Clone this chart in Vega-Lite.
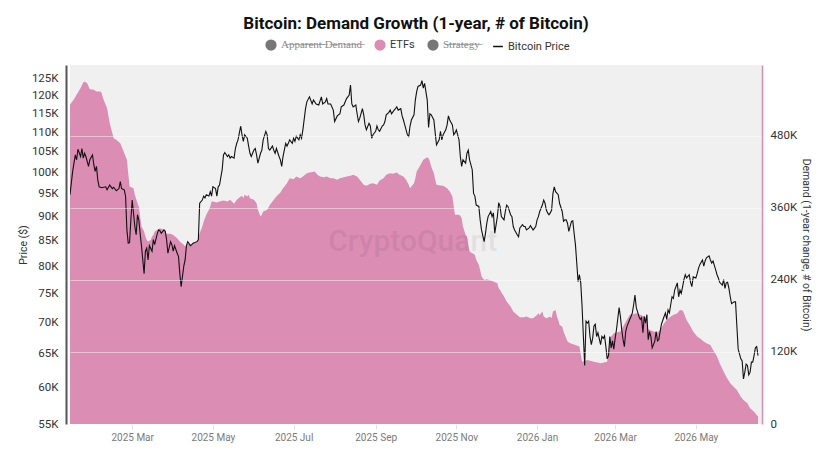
{
  "$schema": "https://vega.github.io/schema/vega-lite/v6.json",
  "width": 692,
  "height": 359,
  "autosize": {"type": "none"},
  "padding": {"left": 70, "top": 65, "right": 66, "bottom": 42},
  "background": "white",
  "config": {
    "view": {"fill": "#f0f0f0", "stroke": null},
    "font": "Roboto"
  },
  "title": {
    "text": "Bitcoin: Demand Growth (1-year, # of Bitcoin)",
    "font": "Roboto",
    "fontSize": 17,
    "fontWeight": "bold",
    "color": "#111111",
    "anchor": "middle",
    "frame": "group",
    "offset": 6
  },
  "datasets": {
    "price": [
      {"date": "2025-01-13", "price": 94800}, {"date": "2025-01-15", "price": 100200}, {"date": "2025-01-17", "price": 104200},
      {"date": "2025-01-18", "price": 103000}, {"date": "2025-01-19", "price": 105600}, {"date": "2025-01-21", "price": 103800},
      {"date": "2025-01-22", "price": 105800}, {"date": "2025-01-23", "price": 103400}, {"date": "2025-01-24", "price": 104600},
      {"date": "2025-01-25", "price": 103800}, {"date": "2025-01-27", "price": 101400}, {"date": "2025-01-28", "price": 103000},
      {"date": "2025-01-30", "price": 104200}, {"date": "2025-01-31", "price": 101800}, {"date": "2025-02-01", "price": 100200},
      {"date": "2025-02-02", "price": 101400}, {"date": "2025-02-03", "price": 98200}, {"date": "2025-02-04", "price": 96600},
      {"date": "2025-02-06", "price": 96400}, {"date": "2025-02-09", "price": 96600}, {"date": "2025-02-10", "price": 95900},
      {"date": "2025-02-12", "price": 97000}, {"date": "2025-02-14", "price": 96200}, {"date": "2025-02-15", "price": 96500},
      {"date": "2025-02-17", "price": 95700}, {"date": "2025-02-19", "price": 96200}, {"date": "2025-02-20", "price": 97800},
      {"date": "2025-02-21", "price": 96200}, {"date": "2025-02-23", "price": 95900}, {"date": "2025-02-24", "price": 94500},
      {"date": "2025-02-25", "price": 87200}, {"date": "2025-02-26", "price": 84500}, {"date": "2025-02-27", "price": 84600},
      {"date": "2025-02-28", "price": 89300}, {"date": "2025-03-01", "price": 93600}, {"date": "2025-03-03", "price": 87900},
      {"date": "2025-03-04", "price": 86200}, {"date": "2025-03-05", "price": 90400}, {"date": "2025-03-06", "price": 89300},
      {"date": "2025-03-07", "price": 86500}, {"date": "2025-03-08", "price": 84000}, {"date": "2025-03-10", "price": 78600},
      {"date": "2025-03-11", "price": 82900}, {"date": "2025-03-12", "price": 83500}, {"date": "2025-03-13", "price": 81200},
      {"date": "2025-03-14", "price": 84000}, {"date": "2025-03-16", "price": 82900}, {"date": "2025-03-17", "price": 85200},
      {"date": "2025-03-18", "price": 84200}, {"date": "2025-03-20", "price": 86500}, {"date": "2025-03-21", "price": 87200},
      {"date": "2025-03-22", "price": 87000}, {"date": "2025-03-23", "price": 86500}, {"date": "2025-03-25", "price": 87200},
      {"date": "2025-03-26", "price": 86900}, {"date": "2025-03-27", "price": 85200}, {"date": "2025-03-28", "price": 82500},
      {"date": "2025-03-30", "price": 84800}, {"date": "2025-03-31", "price": 84200}, {"date": "2025-04-01", "price": 82900},
      {"date": "2025-04-02", "price": 84000}, {"date": "2025-04-04", "price": 82500}, {"date": "2025-04-05", "price": 81900},
      {"date": "2025-04-06", "price": 78600}, {"date": "2025-04-07", "price": 76200}, {"date": "2025-04-09", "price": 80000},
      {"date": "2025-04-10", "price": 81200}, {"date": "2025-04-11", "price": 84000}, {"date": "2025-04-12", "price": 84800},
      {"date": "2025-04-14", "price": 84000}, {"date": "2025-04-15", "price": 84200}, {"date": "2025-04-16", "price": 84500},
      {"date": "2025-04-19", "price": 84800}, {"date": "2025-04-20", "price": 85200}, {"date": "2025-04-21", "price": 92900},
      {"date": "2025-04-23", "price": 93600}, {"date": "2025-04-24", "price": 94500}, {"date": "2025-04-25", "price": 94100},
      {"date": "2025-04-26", "price": 94800}, {"date": "2025-04-28", "price": 94500}, {"date": "2025-04-29", "price": 95500},
      {"date": "2025-04-30", "price": 94500}, {"date": "2025-05-01", "price": 96600}, {"date": "2025-05-03", "price": 96200},
      {"date": "2025-05-04", "price": 94500}, {"date": "2025-05-05", "price": 96600}, {"date": "2025-05-06", "price": 97000},
      {"date": "2025-05-08", "price": 100600}, {"date": "2025-05-09", "price": 104200}, {"date": "2025-05-10", "price": 104800},
      {"date": "2025-05-12", "price": 103800}, {"date": "2025-05-13", "price": 104200}, {"date": "2025-05-14", "price": 103400},
      {"date": "2025-05-15", "price": 103800}, {"date": "2025-05-17", "price": 103400}, {"date": "2025-05-18", "price": 105800},
      {"date": "2025-05-19", "price": 107100}, {"date": "2025-05-20", "price": 108000}, {"date": "2025-05-22", "price": 111600},
      {"date": "2025-05-23", "price": 109300}, {"date": "2025-05-24", "price": 107600}, {"date": "2025-05-25", "price": 109300},
      {"date": "2025-05-27", "price": 108400}, {"date": "2025-05-28", "price": 106400}, {"date": "2025-05-29", "price": 104600},
      {"date": "2025-05-30", "price": 103800}, {"date": "2025-06-01", "price": 105400}, {"date": "2025-06-02", "price": 105800},
      {"date": "2025-06-03", "price": 104200}, {"date": "2025-06-04", "price": 102200}, {"date": "2025-06-06", "price": 104600},
      {"date": "2025-06-07", "price": 105400}, {"date": "2025-06-08", "price": 108000}, {"date": "2025-06-10", "price": 110200},
      {"date": "2025-06-11", "price": 109300}, {"date": "2025-06-12", "price": 105800}, {"date": "2025-06-13", "price": 105400},
      {"date": "2025-06-15", "price": 106400}, {"date": "2025-06-16", "price": 105400}, {"date": "2025-06-17", "price": 104600},
      {"date": "2025-06-18", "price": 105800}, {"date": "2025-06-20", "price": 103800}, {"date": "2025-06-21", "price": 103000},
      {"date": "2025-06-22", "price": 101400}, {"date": "2025-06-23", "price": 103800}, {"date": "2025-06-25", "price": 107100},
      {"date": "2025-06-26", "price": 106400}, {"date": "2025-06-27", "price": 107100}, {"date": "2025-06-28", "price": 108000},
      {"date": "2025-06-30", "price": 107100}, {"date": "2025-07-01", "price": 108400}, {"date": "2025-07-02", "price": 107600},
      {"date": "2025-07-03", "price": 108900}, {"date": "2025-07-05", "price": 108000}, {"date": "2025-07-06", "price": 109300},
      {"date": "2025-07-07", "price": 108400}, {"date": "2025-07-08", "price": 110600}, {"date": "2025-07-10", "price": 116300},
      {"date": "2025-07-11", "price": 118200}, {"date": "2025-07-13", "price": 119600}, {"date": "2025-07-15", "price": 117600},
      {"date": "2025-07-16", "price": 118700}, {"date": "2025-07-18", "price": 117600}, {"date": "2025-07-20", "price": 117300},
      {"date": "2025-07-22", "price": 119600}, {"date": "2025-07-23", "price": 117600}, {"date": "2025-07-25", "price": 118200},
      {"date": "2025-07-26", "price": 119100}, {"date": "2025-07-27", "price": 117600}, {"date": "2025-07-29", "price": 117600},
      {"date": "2025-07-31", "price": 115900}, {"date": "2025-08-01", "price": 112800}, {"date": "2025-08-03", "price": 114300},
      {"date": "2025-08-05", "price": 114900}, {"date": "2025-08-06", "price": 116800}, {"date": "2025-08-08", "price": 117300},
      {"date": "2025-08-09", "price": 118200}, {"date": "2025-08-10", "price": 119100}, {"date": "2025-08-12", "price": 120100},
      {"date": "2025-08-13", "price": 123000}, {"date": "2025-08-14", "price": 117600}, {"date": "2025-08-15", "price": 116800},
      {"date": "2025-08-17", "price": 117300}, {"date": "2025-08-18", "price": 114900}, {"date": "2025-08-19", "price": 112800},
      {"date": "2025-08-20", "price": 113700}, {"date": "2025-08-22", "price": 116300}, {"date": "2025-08-23", "price": 114600},
      {"date": "2025-08-24", "price": 111900}, {"date": "2025-08-25", "price": 110600}, {"date": "2025-08-27", "price": 112300},
      {"date": "2025-08-28", "price": 111600}, {"date": "2025-08-29", "price": 108400}, {"date": "2025-08-30", "price": 109300},
      {"date": "2025-09-01", "price": 110200}, {"date": "2025-09-02", "price": 111600}, {"date": "2025-09-03", "price": 110600},
      {"date": "2025-09-04", "price": 110200}, {"date": "2025-09-06", "price": 111600}, {"date": "2025-09-07", "price": 111900},
      {"date": "2025-09-08", "price": 112800}, {"date": "2025-09-09", "price": 114600}, {"date": "2025-09-11", "price": 115300},
      {"date": "2025-09-12", "price": 115900}, {"date": "2025-09-13", "price": 114900}, {"date": "2025-09-15", "price": 115900},
      {"date": "2025-09-16", "price": 116300}, {"date": "2025-09-17", "price": 116800}, {"date": "2025-09-18", "price": 115900},
      {"date": "2025-09-20", "price": 116300}, {"date": "2025-09-21", "price": 114300}, {"date": "2025-09-22", "price": 113200},
      {"date": "2025-09-23", "price": 111900}, {"date": "2025-09-25", "price": 109300}, {"date": "2025-09-26", "price": 108900},
      {"date": "2025-09-27", "price": 111600}, {"date": "2025-09-28", "price": 113200}, {"date": "2025-09-30", "price": 114600},
      {"date": "2025-10-01", "price": 118700}, {"date": "2025-10-02", "price": 121100}, {"date": "2025-10-03", "price": 122600},
      {"date": "2025-10-05", "price": 123000}, {"date": "2025-10-06", "price": 124300}, {"date": "2025-10-07", "price": 122100},
      {"date": "2025-10-08", "price": 123500}, {"date": "2025-10-10", "price": 118700}, {"date": "2025-10-11", "price": 111200},
      {"date": "2025-10-12", "price": 114900}, {"date": "2025-10-13", "price": 114600}, {"date": "2025-10-15", "price": 113200},
      {"date": "2025-10-16", "price": 109800}, {"date": "2025-10-17", "price": 106700}, {"date": "2025-10-19", "price": 108000},
      {"date": "2025-10-20", "price": 110200}, {"date": "2025-10-21", "price": 108000}, {"date": "2025-10-22", "price": 109300},
      {"date": "2025-10-24", "price": 110600}, {"date": "2025-10-25", "price": 111900}, {"date": "2025-10-26", "price": 114300},
      {"date": "2025-10-27", "price": 113200}, {"date": "2025-10-29", "price": 111900}, {"date": "2025-10-30", "price": 109300},
      {"date": "2025-10-31", "price": 109800}, {"date": "2025-11-01", "price": 110600}, {"date": "2025-11-03", "price": 108000},
      {"date": "2025-11-04", "price": 103800}, {"date": "2025-11-05", "price": 101400}, {"date": "2025-11-06", "price": 103000},
      {"date": "2025-11-08", "price": 102200}, {"date": "2025-11-09", "price": 104600}, {"date": "2025-11-10", "price": 105400},
      {"date": "2025-11-11", "price": 103000}, {"date": "2025-11-13", "price": 100600}, {"date": "2025-11-14", "price": 95100},
      {"date": "2025-11-15", "price": 94500}, {"date": "2025-11-16", "price": 92500}, {"date": "2025-11-18", "price": 92200},
      {"date": "2025-11-19", "price": 89300}, {"date": "2025-11-20", "price": 87200}, {"date": "2025-11-22", "price": 84800},
      {"date": "2025-11-23", "price": 86500}, {"date": "2025-11-24", "price": 88600}, {"date": "2025-11-25", "price": 90000},
      {"date": "2025-11-27", "price": 91100}, {"date": "2025-11-28", "price": 90000}, {"date": "2025-11-29", "price": 90800},
      {"date": "2025-11-30", "price": 86500}, {"date": "2025-12-02", "price": 90000}, {"date": "2025-12-03", "price": 93000},
      {"date": "2025-12-04", "price": 92200}, {"date": "2025-12-05", "price": 90000}, {"date": "2025-12-07", "price": 89300},
      {"date": "2025-12-08", "price": 91100}, {"date": "2025-12-09", "price": 92500}, {"date": "2025-12-10", "price": 92200},
      {"date": "2025-12-12", "price": 90400}, {"date": "2025-12-13", "price": 90000}, {"date": "2025-12-14", "price": 87900},
      {"date": "2025-12-15", "price": 87200}, {"date": "2025-12-17", "price": 86200}, {"date": "2025-12-18", "price": 85800},
      {"date": "2025-12-19", "price": 87600}, {"date": "2025-12-21", "price": 88300}, {"date": "2025-12-22", "price": 87900},
      {"date": "2025-12-23", "price": 87900}, {"date": "2025-12-24", "price": 87200}, {"date": "2025-12-26", "price": 87600},
      {"date": "2025-12-27", "price": 88100}, {"date": "2025-12-29", "price": 87200}, {"date": "2025-12-31", "price": 87900},
      {"date": "2026-01-01", "price": 89300}, {"date": "2026-01-02", "price": 90000}, {"date": "2026-01-03", "price": 91100},
      {"date": "2026-01-05", "price": 92500}, {"date": "2026-01-06", "price": 93600}, {"date": "2026-01-07", "price": 92900},
      {"date": "2026-01-08", "price": 91400}, {"date": "2026-01-09", "price": 90800}, {"date": "2026-01-10", "price": 90400},
      {"date": "2026-01-11", "price": 90800}, {"date": "2026-01-12", "price": 91400}, {"date": "2026-01-13", "price": 95100},
      {"date": "2026-01-14", "price": 96600}, {"date": "2026-01-15", "price": 95500}, {"date": "2026-01-17", "price": 94800},
      {"date": "2026-01-18", "price": 92900}, {"date": "2026-01-20", "price": 91100}, {"date": "2026-01-21", "price": 89000},
      {"date": "2026-01-22", "price": 89300}, {"date": "2026-01-23", "price": 89300}, {"date": "2026-01-24", "price": 88600},
      {"date": "2026-01-25", "price": 86900}, {"date": "2026-01-27", "price": 89000}, {"date": "2026-01-28", "price": 89100},
      {"date": "2026-01-29", "price": 86500}, {"date": "2026-01-30", "price": 84200}, {"date": "2026-01-31", "price": 80600},
      {"date": "2026-02-01", "price": 77100}, {"date": "2026-02-02", "price": 78400}, {"date": "2026-02-03", "price": 76900},
      {"date": "2026-02-04", "price": 72800}, {"date": "2026-02-05", "price": 67700}, {"date": "2026-02-06", "price": 63200},
      {"date": "2026-02-07", "price": 70200}, {"date": "2026-02-08", "price": 69900}, {"date": "2026-02-09", "price": 70200},
      {"date": "2026-02-10", "price": 67700}, {"date": "2026-02-11", "price": 66400}, {"date": "2026-02-12", "price": 67400},
      {"date": "2026-02-13", "price": 69400}, {"date": "2026-02-14", "price": 69700}, {"date": "2026-02-15", "price": 67700},
      {"date": "2026-02-16", "price": 68300}, {"date": "2026-02-18", "price": 66400}, {"date": "2026-02-19", "price": 67700},
      {"date": "2026-02-20", "price": 67400}, {"date": "2026-02-21", "price": 67800}, {"date": "2026-02-22", "price": 66100},
      {"date": "2026-02-23", "price": 64200}, {"date": "2026-02-24", "price": 64700}, {"date": "2026-02-25", "price": 67700},
      {"date": "2026-02-26", "price": 65900}, {"date": "2026-02-27", "price": 67000}, {"date": "2026-02-28", "price": 65700},
      {"date": "2026-03-01", "price": 67400}, {"date": "2026-03-02", "price": 68800}, {"date": "2026-03-04", "price": 72500},
      {"date": "2026-03-05", "price": 71000}, {"date": "2026-03-06", "price": 68800}, {"date": "2026-03-07", "price": 67200},
      {"date": "2026-03-08", "price": 66100}, {"date": "2026-03-09", "price": 68500}, {"date": "2026-03-10", "price": 69400},
      {"date": "2026-03-11", "price": 69900}, {"date": "2026-03-12", "price": 70500}, {"date": "2026-03-13", "price": 71000},
      {"date": "2026-03-14", "price": 71600}, {"date": "2026-03-15", "price": 73000}, {"date": "2026-03-16", "price": 74700},
      {"date": "2026-03-17", "price": 72500}, {"date": "2026-03-19", "price": 71000}, {"date": "2026-03-20", "price": 70500},
      {"date": "2026-03-21", "price": 70800}, {"date": "2026-03-22", "price": 68300}, {"date": "2026-03-23", "price": 71000},
      {"date": "2026-03-24", "price": 69900}, {"date": "2026-03-25", "price": 71300}, {"date": "2026-03-26", "price": 67200},
      {"date": "2026-03-27", "price": 68500}, {"date": "2026-03-28", "price": 67700}, {"date": "2026-03-29", "price": 65900},
      {"date": "2026-03-30", "price": 66400}, {"date": "2026-03-31", "price": 67000}, {"date": "2026-04-01", "price": 68500},
      {"date": "2026-04-02", "price": 67000}, {"date": "2026-04-03", "price": 67200}, {"date": "2026-04-04", "price": 68500},
      {"date": "2026-04-05", "price": 69700}, {"date": "2026-04-07", "price": 71000}, {"date": "2026-04-08", "price": 71600},
      {"date": "2026-04-09", "price": 70500}, {"date": "2026-04-10", "price": 72100}, {"date": "2026-04-11", "price": 71600},
      {"date": "2026-04-12", "price": 73000}, {"date": "2026-04-13", "price": 74400}, {"date": "2026-04-14", "price": 74100},
      {"date": "2026-04-15", "price": 75600}, {"date": "2026-04-17", "price": 76900}, {"date": "2026-04-18", "price": 74400},
      {"date": "2026-04-19", "price": 75600}, {"date": "2026-04-20", "price": 75000}, {"date": "2026-04-21", "price": 76200},
      {"date": "2026-04-22", "price": 77500}, {"date": "2026-04-23", "price": 78400}, {"date": "2026-04-24", "price": 77800},
      {"date": "2026-04-26", "price": 78400}, {"date": "2026-04-27", "price": 77000}, {"date": "2026-04-28", "price": 76200},
      {"date": "2026-04-29", "price": 78000}, {"date": "2026-05-01", "price": 77800}, {"date": "2026-05-02", "price": 78600},
      {"date": "2026-05-03", "price": 79600}, {"date": "2026-05-04", "price": 80300}, {"date": "2026-05-06", "price": 81200},
      {"date": "2026-05-07", "price": 80000}, {"date": "2026-05-08", "price": 81000}, {"date": "2026-05-09", "price": 81600},
      {"date": "2026-05-11", "price": 82000}, {"date": "2026-05-12", "price": 81200}, {"date": "2026-05-13", "price": 80600},
      {"date": "2026-05-14", "price": 81000}, {"date": "2026-05-16", "price": 79300}, {"date": "2026-05-17", "price": 78400},
      {"date": "2026-05-18", "price": 77800}, {"date": "2026-05-19", "price": 77000}, {"date": "2026-05-21", "price": 76500},
      {"date": "2026-05-22", "price": 77500}, {"date": "2026-05-23", "price": 75900}, {"date": "2026-05-24", "price": 76900},
      {"date": "2026-05-25", "price": 77000}, {"date": "2026-05-26", "price": 75900}, {"date": "2026-05-27", "price": 74400},
      {"date": "2026-05-28", "price": 73200}, {"date": "2026-05-30", "price": 73500}, {"date": "2026-05-31", "price": 73500},
      {"date": "2026-06-01", "price": 69400}, {"date": "2026-06-02", "price": 65700}, {"date": "2026-06-04", "price": 64200},
      {"date": "2026-06-05", "price": 63900}, {"date": "2026-06-06", "price": 61200}, {"date": "2026-06-07", "price": 62200},
      {"date": "2026-06-08", "price": 63400}, {"date": "2026-06-09", "price": 63200}, {"date": "2026-06-10", "price": 61800},
      {"date": "2026-06-11", "price": 62200}, {"date": "2026-06-12", "price": 63700}, {"date": "2026-06-13", "price": 63700},
      {"date": "2026-06-14", "price": 64700}, {"date": "2026-06-15", "price": 65900}, {"date": "2026-06-16", "price": 66100},
      {"date": "2026-06-17", "price": 64700}
    ],
    "etf": [
      {"date": "2025-01-13", "etf": 531700}, {"date": "2025-01-16", "etf": 541100}, {"date": "2025-01-18", "etf": 548400},
      {"date": "2025-01-21", "etf": 559500}, {"date": "2025-01-23", "etf": 568900}, {"date": "2025-01-24", "etf": 570600},
      {"date": "2025-01-26", "etf": 567800}, {"date": "2025-01-28", "etf": 557800}, {"date": "2025-01-31", "etf": 556700},
      {"date": "2025-02-02", "etf": 553900}, {"date": "2025-02-05", "etf": 553900}, {"date": "2025-02-06", "etf": 551100},
      {"date": "2025-02-07", "etf": 542800}, {"date": "2025-02-10", "etf": 526100}, {"date": "2025-02-12", "etf": 501100},
      {"date": "2025-02-15", "etf": 476100}, {"date": "2025-02-17", "etf": 473400}, {"date": "2025-02-20", "etf": 467800},
      {"date": "2025-02-22", "etf": 456700}, {"date": "2025-02-25", "etf": 440000}, {"date": "2025-02-26", "etf": 417800},
      {"date": "2025-02-27", "etf": 395600}, {"date": "2025-03-02", "etf": 392800}, {"date": "2025-03-03", "etf": 381700},
      {"date": "2025-03-05", "etf": 367800}, {"date": "2025-03-06", "etf": 362300}, {"date": "2025-03-07", "etf": 345600},
      {"date": "2025-03-08", "etf": 328900}, {"date": "2025-03-10", "etf": 320600}, {"date": "2025-03-11", "etf": 312300},
      {"date": "2025-03-12", "etf": 306700}, {"date": "2025-03-13", "etf": 303900}, {"date": "2025-03-15", "etf": 306700},
      {"date": "2025-03-16", "etf": 312300}, {"date": "2025-03-17", "etf": 315000}, {"date": "2025-03-18", "etf": 320600},
      {"date": "2025-03-20", "etf": 323400}, {"date": "2025-03-22", "etf": 326100}, {"date": "2025-03-25", "etf": 323400},
      {"date": "2025-03-27", "etf": 316700}, {"date": "2025-03-30", "etf": 316700}, {"date": "2025-04-01", "etf": 315000},
      {"date": "2025-04-04", "etf": 309500}, {"date": "2025-04-06", "etf": 303900}, {"date": "2025-04-09", "etf": 298400},
      {"date": "2025-04-10", "etf": 295600}, {"date": "2025-04-11", "etf": 298400}, {"date": "2025-04-13", "etf": 301100},
      {"date": "2025-04-14", "etf": 298400}, {"date": "2025-04-16", "etf": 301100}, {"date": "2025-04-19", "etf": 303900},
      {"date": "2025-04-20", "etf": 309500}, {"date": "2025-04-21", "etf": 317800}, {"date": "2025-04-23", "etf": 328900},
      {"date": "2025-04-24", "etf": 337300}, {"date": "2025-04-25", "etf": 342800}, {"date": "2025-04-26", "etf": 348400},
      {"date": "2025-04-28", "etf": 356700}, {"date": "2025-04-29", "etf": 362300}, {"date": "2025-04-30", "etf": 370600},
      {"date": "2025-05-01", "etf": 370600}, {"date": "2025-05-04", "etf": 368900}, {"date": "2025-05-06", "etf": 370600},
      {"date": "2025-05-09", "etf": 372300}, {"date": "2025-05-12", "etf": 370600}, {"date": "2025-05-14", "etf": 373400},
      {"date": "2025-05-17", "etf": 366700}, {"date": "2025-05-19", "etf": 373400}, {"date": "2025-05-22", "etf": 378900},
      {"date": "2025-05-23", "etf": 380000}, {"date": "2025-05-24", "etf": 376100}, {"date": "2025-05-25", "etf": 381700},
      {"date": "2025-05-27", "etf": 378900}, {"date": "2025-05-28", "etf": 381700}, {"date": "2025-05-29", "etf": 376100},
      {"date": "2025-06-01", "etf": 373400}, {"date": "2025-06-03", "etf": 367800}, {"date": "2025-06-04", "etf": 356700},
      {"date": "2025-06-06", "etf": 345600}, {"date": "2025-06-07", "etf": 348400}, {"date": "2025-06-08", "etf": 353900},
      {"date": "2025-06-11", "etf": 356700}, {"date": "2025-06-13", "etf": 365000}, {"date": "2025-06-16", "etf": 373400},
      {"date": "2025-06-18", "etf": 378900}, {"date": "2025-06-21", "etf": 385600}, {"date": "2025-06-23", "etf": 392800},
      {"date": "2025-06-26", "etf": 401100}, {"date": "2025-06-28", "etf": 409500}, {"date": "2025-07-01", "etf": 407800},
      {"date": "2025-07-03", "etf": 412300}, {"date": "2025-07-06", "etf": 409500}, {"date": "2025-07-08", "etf": 412300},
      {"date": "2025-07-11", "etf": 417800}, {"date": "2025-07-13", "etf": 418900}, {"date": "2025-07-17", "etf": 420600},
      {"date": "2025-07-19", "etf": 415000}, {"date": "2025-07-21", "etf": 412300}, {"date": "2025-07-24", "etf": 411100},
      {"date": "2025-07-26", "etf": 412300}, {"date": "2025-07-29", "etf": 409500}, {"date": "2025-07-31", "etf": 409500},
      {"date": "2025-08-03", "etf": 406700}, {"date": "2025-08-05", "etf": 409500}, {"date": "2025-08-08", "etf": 411100},
      {"date": "2025-08-10", "etf": 412300}, {"date": "2025-08-13", "etf": 413400}, {"date": "2025-08-15", "etf": 415000},
      {"date": "2025-08-18", "etf": 412300}, {"date": "2025-08-20", "etf": 406700}, {"date": "2025-08-23", "etf": 398400},
      {"date": "2025-08-25", "etf": 396700}, {"date": "2025-08-28", "etf": 400000}, {"date": "2025-08-30", "etf": 401100},
      {"date": "2025-09-02", "etf": 398400}, {"date": "2025-09-04", "etf": 405600}, {"date": "2025-09-07", "etf": 409500},
      {"date": "2025-09-09", "etf": 415000}, {"date": "2025-09-12", "etf": 417800}, {"date": "2025-09-14", "etf": 416700},
      {"date": "2025-09-17", "etf": 418900}, {"date": "2025-09-19", "etf": 415000}, {"date": "2025-09-22", "etf": 412300},
      {"date": "2025-09-24", "etf": 406700}, {"date": "2025-09-26", "etf": 398400}, {"date": "2025-09-27", "etf": 392800},
      {"date": "2025-09-28", "etf": 395600}, {"date": "2025-09-30", "etf": 401100}, {"date": "2025-10-01", "etf": 409500},
      {"date": "2025-10-02", "etf": 420600}, {"date": "2025-10-05", "etf": 431700}, {"date": "2025-10-07", "etf": 440000},
      {"date": "2025-10-10", "etf": 444500}, {"date": "2025-10-11", "etf": 442800}, {"date": "2025-10-12", "etf": 437300},
      {"date": "2025-10-13", "etf": 428900}, {"date": "2025-10-15", "etf": 417800}, {"date": "2025-10-16", "etf": 406700},
      {"date": "2025-10-17", "etf": 398400}, {"date": "2025-10-20", "etf": 397300}, {"date": "2025-10-22", "etf": 396700},
      {"date": "2025-10-25", "etf": 392800}, {"date": "2025-10-27", "etf": 387300}, {"date": "2025-10-29", "etf": 378900},
      {"date": "2025-10-30", "etf": 362300}, {"date": "2025-10-31", "etf": 348400}, {"date": "2025-11-03", "etf": 348400},
      {"date": "2025-11-04", "etf": 346700}, {"date": "2025-11-05", "etf": 342800}, {"date": "2025-11-06", "etf": 328900},
      {"date": "2025-11-08", "etf": 315000}, {"date": "2025-11-09", "etf": 312300}, {"date": "2025-11-10", "etf": 298400},
      {"date": "2025-11-11", "etf": 287300}, {"date": "2025-11-13", "etf": 284500}, {"date": "2025-11-14", "etf": 283400},
      {"date": "2025-11-15", "etf": 281700}, {"date": "2025-11-16", "etf": 273400}, {"date": "2025-11-18", "etf": 265000},
      {"date": "2025-11-19", "etf": 256700}, {"date": "2025-11-20", "etf": 245600}, {"date": "2025-11-22", "etf": 240000},
      {"date": "2025-11-24", "etf": 241100}, {"date": "2025-11-27", "etf": 238900}, {"date": "2025-11-29", "etf": 237300},
      {"date": "2025-12-02", "etf": 234500}, {"date": "2025-12-03", "etf": 226100}, {"date": "2025-12-04", "etf": 223400},
      {"date": "2025-12-07", "etf": 212300}, {"date": "2025-12-09", "etf": 203900}, {"date": "2025-12-12", "etf": 195600},
      {"date": "2025-12-14", "etf": 187300}, {"date": "2025-12-17", "etf": 181700}, {"date": "2025-12-19", "etf": 177800},
      {"date": "2025-12-22", "etf": 177800}, {"date": "2025-12-24", "etf": 178900}, {"date": "2025-12-27", "etf": 176100},
      {"date": "2025-12-29", "etf": 176100}, {"date": "2026-01-01", "etf": 181700}, {"date": "2026-01-02", "etf": 184500},
      {"date": "2026-01-03", "etf": 181700}, {"date": "2026-01-05", "etf": 187300}, {"date": "2026-01-06", "etf": 178900},
      {"date": "2026-01-08", "etf": 176100}, {"date": "2026-01-11", "etf": 178900}, {"date": "2026-01-12", "etf": 176100},
      {"date": "2026-01-13", "etf": 187300}, {"date": "2026-01-15", "etf": 190000}, {"date": "2026-01-16", "etf": 178900},
      {"date": "2026-01-17", "etf": 173400}, {"date": "2026-01-18", "etf": 165000}, {"date": "2026-01-20", "etf": 162300},
      {"date": "2026-01-21", "etf": 153900}, {"date": "2026-01-24", "etf": 137300}, {"date": "2026-01-26", "etf": 134500},
      {"date": "2026-01-30", "etf": 131700}, {"date": "2026-02-02", "etf": 128900}, {"date": "2026-02-04", "etf": 103900},
      {"date": "2026-02-08", "etf": 106700}, {"date": "2026-02-13", "etf": 103900}, {"date": "2026-02-18", "etf": 101100},
      {"date": "2026-02-23", "etf": 103900}, {"date": "2026-02-25", "etf": 142800}, {"date": "2026-02-28", "etf": 151100},
      {"date": "2026-03-05", "etf": 153900}, {"date": "2026-03-09", "etf": 170500}, {"date": "2026-03-12", "etf": 181700},
      {"date": "2026-03-17", "etf": 184500}, {"date": "2026-03-20", "etf": 182000}, {"date": "2026-03-24", "etf": 178000},
      {"date": "2026-03-26", "etf": 158000}, {"date": "2026-03-30", "etf": 153900}, {"date": "2026-04-02", "etf": 152300},
      {"date": "2026-04-04", "etf": 156700}, {"date": "2026-04-07", "etf": 167800}, {"date": "2026-04-09", "etf": 173400},
      {"date": "2026-04-12", "etf": 178900}, {"date": "2026-04-14", "etf": 181700}, {"date": "2026-04-17", "etf": 184500},
      {"date": "2026-04-19", "etf": 190000}, {"date": "2026-04-21", "etf": 188900}, {"date": "2026-04-22", "etf": 184500},
      {"date": "2026-04-24", "etf": 173400}, {"date": "2026-04-27", "etf": 162300}, {"date": "2026-04-29", "etf": 153900},
      {"date": "2026-05-02", "etf": 145600}, {"date": "2026-05-04", "etf": 142800}, {"date": "2026-05-07", "etf": 137300},
      {"date": "2026-05-09", "etf": 134500}, {"date": "2026-05-12", "etf": 131700}, {"date": "2026-05-14", "etf": 123400},
      {"date": "2026-05-17", "etf": 112300}, {"date": "2026-05-19", "etf": 101100}, {"date": "2026-05-22", "etf": 87300},
      {"date": "2026-05-24", "etf": 78900}, {"date": "2026-05-27", "etf": 67800}, {"date": "2026-05-30", "etf": 61100},
      {"date": "2026-06-01", "etf": 56700}, {"date": "2026-06-04", "etf": 45600}, {"date": "2026-06-06", "etf": 40000},
      {"date": "2026-06-09", "etf": 34500}, {"date": "2026-06-11", "etf": 26100}, {"date": "2026-06-14", "etf": 20600},
      {"date": "2026-06-16", "etf": 15000}, {"date": "2026-06-17", "etf": 12300}
    ],
    "mark": [{"label": "CryptoQuant"}]
  },
  "layer": [
    {
      "layer": [
        {
          "data": {"name": "etf"},
          "mark": {"type": "area", "interpolate": "linear", "clip": true},
          "encoding": {
            "x": {
              "field": "date",
              "type": "temporal",
              "scale": {"type": "utc", "domain": [{"year": 2025, "month": 1, "date": 13, "utc": true}, {"year": 2026, "month": 6, "date": 20, "utc": true}]},
              "axis": {
                "title": null,
                "values": [
                  {"year": 2025, "month": 3, "date": 1, "utc": true},
                  {"year": 2025, "month": 5, "date": 1, "utc": true},
                  {"year": 2025, "month": 7, "date": 1, "utc": true},
                  {"year": 2025, "month": 9, "date": 1, "utc": true},
                  {"year": 2025, "month": 11, "date": 1, "utc": true},
                  {"year": 2026, "month": 1, "date": 1, "utc": true},
                  {"year": 2026, "month": 3, "date": 1, "utc": true},
                  {"year": 2026, "month": 5, "date": 1, "utc": true}
                ],
                "format": "%Y %b",
                "domain": false,
                "grid": false,
                "tickColor": "#e2e2e2",
                "tickSize": 5,
                "labelColor": "#7a7a7a",
                "labelFont": "Roboto",
                "labelFontSize": 10,
                "labelPadding": 3
              }
            },
            "y": {
              "field": "etf",
              "type": "quantitative",
              "scale": {"domain": [0, 598000], "nice": false},
              "axis": {
                "orient": "right",
                "title": "Demand (1-year change, # of Bitcoin)",
                "titleFont": "Roboto",
                "titleFontSize": 10.5,
                "titleFontWeight": "normal",
                "titleColor": "#333333",
                "titlePadding": 4,
                "values": [0, 120000, 240000, 360000, 480000],
                "labelExpr": "datum.value == 0 ? '0' : format(datum.value / 1000, '.0f') + 'K'",
                "labelFont": "Roboto",
                "labelFontSize": 11.5,
                "labelColor": "#333333",
                "labelPadding": 8,
                "ticks": false,
                "domainColor": "#d98cb3",
                "domainWidth": 1.5,
                "grid": true,
                "gridColor": "#ffffff",
                "gridOpacity": 0.45,
                "zindex": 1
              }
            },
            "color": {
              "datum": "ETFs",
              "type": "nominal",
              "scale": {
                "domain": ["Apparent Demand", "ETFs", "Strategy", "Bitcoin Price"],
                "range": ["#777777", "#dc8db4", "#777777", "#111111"]
              },
              "legend": {
                "orient": "none",
                "legendX": 195,
                "legendY": -26,
                "direction": "horizontal",
                "title": null,
                "labelFont": "Roboto",
                "labelFontSize": 11,
                "labelColor": "#333333",
                "labelOffset": 4,
                "columnPadding": 10,
                "symbolSize": 95,
                "symbolStrokeWidth": 1.5,
                "labelExpr": "datum.value === 'Apparent Demand' ? 'A\u0336p\u0336p\u0336a\u0336r\u0336e\u0336n\u0336t\u0336 \u0336D\u0336e\u0336m\u0336a\u0336n\u0336d\u0336' : datum.value === 'Strategy' ? 'S\u0336t\u0336r\u0336a\u0336t\u0336e\u0336g\u0336y\u0336' : datum.label",
                "encode": {
                  "symbols": {
                    "update": {
                      "shape": {"signal": "datum.value === 'Bitcoin Price' ? 'stroke' : 'circle'"},
                      "fill": {"signal": "datum.value === 'Bitcoin Price' ? 'transparent' : datum.value === 'ETFs' ? '#e0619f' : '#777777'"},
                      "stroke": {"signal": "datum.value === 'Bitcoin Price' ? '#111111' : 'transparent'"},
                      "opacity": {"value": 1}
                    }
                  },
                  "labels": {
                    "update": {
                      "fill": {"signal": "datum.value === 'Apparent Demand' || datum.value === 'Strategy' ? '#8a8a8a' : '#333333'"}
                    }
                  }
                }
              }
            }
          }
        },
        {
          "data": {"name": "mark"},
          "mark": {"type": "text", "font": "Roboto", "fontSize": 30, "fontWeight": 500, "color": "#000000", "opacity": 0.06},
          "encoding": {
            "x": {"datum": {"year": 2025, "month": 9, "date": 29, "utc": true}, "type": "temporal"},
            "y": {"datum": 303000, "type": "quantitative"},
            "text": {"field": "label"}
          }
        }
      ]
    },
    {
      "data": {"name": "price"},
      "mark": {"type": "line", "strokeWidth": 1.1, "interpolate": "linear", "clip": true},
      "encoding": {
        "x": {
          "field": "date",
          "type": "temporal"
        },
        "y": {
          "field": "price",
          "type": "quantitative",
          "scale": {"type": "log", "domain": [55000, 129000], "nice": false},
          "axis": {
            "orient": "left",
            "title": "Price ($)",
            "titleFont": "Roboto",
            "titleFontSize": 10.5,
            "titleFontWeight": "normal",
            "titleColor": "#333333",
            "titlePadding": 3,
            "values": [55000, 60000, 65000, 70000, 75000, 80000, 85000, 90000, 95000, 100000, 105000, 110000, 115000, 120000, 125000],
            "labelExpr": "format(datum.value / 1000, '.0f') + 'K'",
            "labelFont": "Roboto",
            "labelFontSize": 11.5,
            "labelColor": "#333333",
            "labelPadding": 8,
            "ticks": false,
            "offset": 4,
            "domainColor": "#555555",
            "domainWidth": 2,
            "grid": false
          }
        },
        "color": {"datum": "Bitcoin Price", "type": "nominal"}
      }
    }
  ],
  "resolve": {"scale": {"y": "independent"}}
}
